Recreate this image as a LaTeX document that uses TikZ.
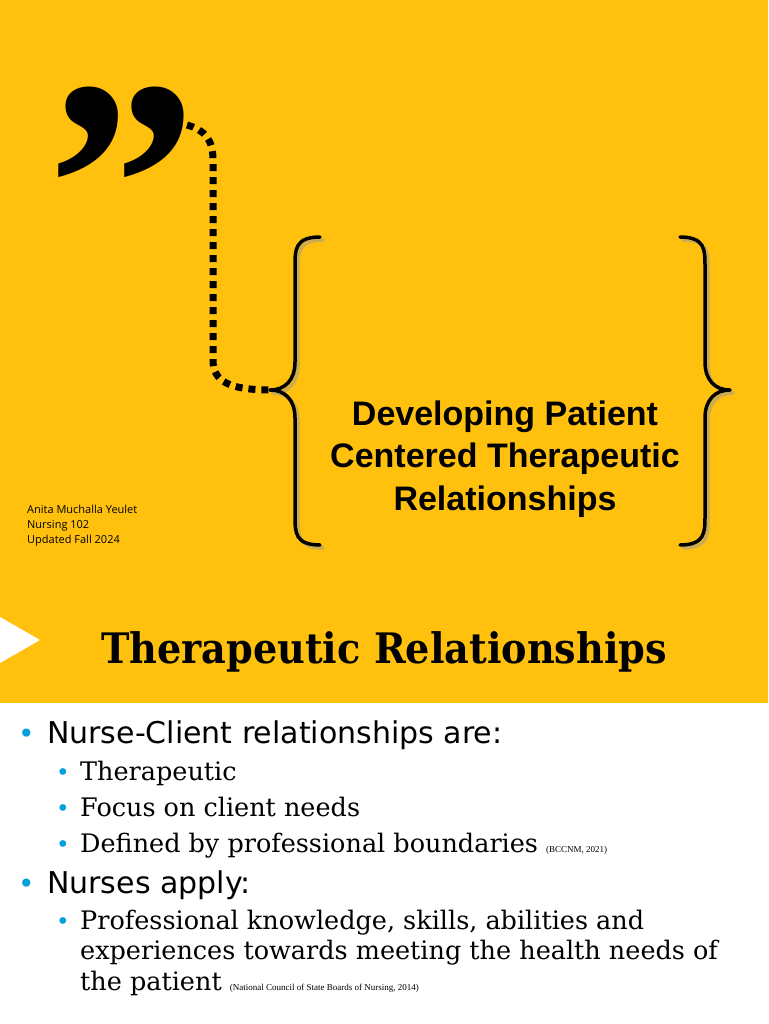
\documentclass[tikz,border=0pt]{standalone}
\usepackage{fontspec}
\setmainfont{DejaVu Serif}
\setsansfont{Liberation Sans}
\newfontfamily\bodysans{DejaVu Sans}
\newfontfamily\citefont{Liberation Serif}
\newfontfamily\smallsans{Open Sans}
\newfontfamily\headfont[FakeStretch=0.91]{DejaVu Serif}
\usetikzlibrary{calc}
\definecolor{gold}{RGB}{255,193,14}
\definecolor{bulletblue}{RGB}{0,160,220}
\tikzset{
	bracepath/.style={line width=3.5pt, line cap=round, line join=round},
	item/.style={anchor=base west, inner sep=0pt, font=\fontsize{25.5}{30}\selectfont},
	mainitem/.style={anchor=base west, inner sep=0pt, font=\bodysans\fontsize{30}{34}\selectfont},
	dot/.style={anchor=base west, inner sep=0pt, text=bulletblue}
}
\newcommand{\srcref}[1]{{\citefont\fontsize{9}{10}\selectfont(#1)}}
\begin{document}
\begin{tikzpicture}[x=1pt,y=-1pt]
	\useasboundingbox (0,0) rectangle (768,1024);
	
	% background
	\fill[gold] (0,0) rectangle (768,703);
	\fill[white] (0,703) rectangle (768,1024);
	\fill[white] (0,617) -- (40,640) -- (0,663) -- cycle;
	
	% quote marks
	\node[inner sep=0pt, anchor=base west] (quote) at (47,286) {\citefont\fontsize{300}{300}\selectfont\bfseries ”};
	
	% dotted connector
	\coordinate (qend) at (187,125);
	\coordinate (btip) at (272,390);
	\draw[line width=7pt, dash pattern=on 7pt off 6pt]
		(qend) .. controls (205,130) and (213,140) .. (213,160) -- (213,360)
		.. controls (213,382) and (230,390) .. (btip);
	
	% braces
	\foreach \s/\x in {1/320, -1/680} {
		\draw[bracepath, black!40, opacity=.5, shift={(3,3)}]
			(\x,237) .. controls (\x-25*\s,237) and (\x-25*\s,250) .. (\x-25*\s,265) -- (\x-25*\s,362)
			.. controls (\x-25*\s,380) and (\x-35*\s,390) .. (\x-50*\s,390)
			.. controls (\x-35*\s,390) and (\x-25*\s,400) .. (\x-25*\s,418) -- (\x-25*\s,517)
			.. controls (\x-25*\s,532) and (\x-25*\s,545) .. (\x,545);
		\draw[bracepath]
			(\x,237) .. controls (\x-25*\s,237) and (\x-25*\s,250) .. (\x-25*\s,265) -- (\x-25*\s,362)
			.. controls (\x-25*\s,380) and (\x-35*\s,390) .. (\x-50*\s,390)
			.. controls (\x-35*\s,390) and (\x-25*\s,400) .. (\x-25*\s,418) -- (\x-25*\s,517)
			.. controls (\x-25*\s,532) and (\x-25*\s,545) .. (\x,545);
	}
	
	% titles
	\node[align=center, font=\sffamily\bfseries\fontsize{34}{42.5}\selectfont] (subject) at (505,459)
		{Developing Patient\\Centered Therapeutic\\Relationships};
	\node[align=left, anchor=west, inner sep=0pt, font=\smallsans\fontsize{11}{15}\selectfont] (author) at (27,526)
		{Anita Muchalla Yeulet\\Nursing 102\\Updated Fall 2024};
	\node[font=\headfont\bfseries\fontsize{42}{46}\selectfont] (heading) at (384,652) {Therapeutic Relationships};
	
	% bullet list
	\node[dot, font=\fontsize{28}{30}\selectfont] (d1) at (18,743) {•};
	\node[mainitem] (l1) at (47,743) {Nurse-Client relationships are:};
	\node[dot, font=\fontsize{23}{26}\selectfont] (d2) at (56,780) {•};
	\node[item] (l2) at (80,780) {Therapeutic};
	\node[dot, font=\fontsize{23}{26}\selectfont] (d3) at (56,816) {•};
	\node[item] (l3) at (80,816) {Focus on client needs};
	\node[dot, font=\fontsize{23}{26}\selectfont] (d4) at (56,852) {•};
	\node[item] (l4) at (80,852) {Defined by professional boundaries \srcref{BCCNM, 2021}};
	\node[dot, font=\fontsize{28}{30}\selectfont] (d5) at (18,893) {•};
	\node[mainitem] (l5) at (47,893) {Nurses apply:};
	\node[dot, font=\fontsize{23}{26}\selectfont] (d6) at (56,929) {•};
	\node[item, align=left, font=\fontsize{25.5}{30.5}\selectfont] (l6) at (80,990)
		{Professional knowledge, skills, abilities and\\experiences towards meeting the health needs of\\the patient \srcref{National Council of State Boards of Nursing, 2014}};
\end{tikzpicture}
\end{document}
